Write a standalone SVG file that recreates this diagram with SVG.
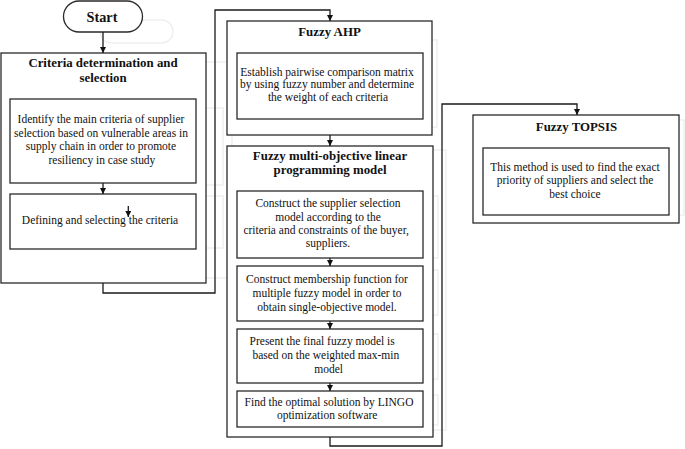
<svg xmlns="http://www.w3.org/2000/svg" width="685" height="449" viewBox="0 0 685 449" font-family="Liberation Serif, DejaVu Serif, serif">
<style>
.box{fill:#fff;stroke:#2a2a2a;stroke-width:1.3}
.ghost{fill:none;stroke:#efefef;stroke-width:1.5}
.con{fill:none;stroke:#1a1a1a;stroke-width:1.3}
text{fill:#111;text-anchor:middle}
.t{font-size:13px;font-weight:bold}
.b{font-size:12.5px}
.b2{font-size:12px}
.s{font-size:15.5px;font-weight:bold}
</style>
<defs>
<marker id="ah" viewBox="0 0 10 10" refX="10" refY="5" markerWidth="6" markerHeight="6" markerUnits="userSpaceOnUse" orient="auto">
<path d="M0,0 L10,5 L0,10 Z" fill="#111"/>
</marker>
</defs>
<rect width="685" height="449" fill="#fff"/>
<g id="ghosts">
<rect class="ghost" x="100" y="20" width="73" height="23" rx="11.5"/>
<rect class="ghost" x="40" y="62" width="192" height="216"/>
<rect class="ghost" x="49" y="108" width="174" height="77"/>
<rect class="ghost" x="49" y="196" width="174" height="52"/>
<rect class="ghost" x="263" y="40" width="174" height="87"/>
<rect class="ghost" x="266" y="150" width="180" height="280"/>
<rect class="ghost" x="263" y="196" width="175" height="62"/>
<rect class="ghost" x="263" y="270" width="175" height="45"/>
<rect class="ghost" x="263" y="334" width="175" height="45"/>
<rect class="ghost" x="263" y="395" width="175" height="30"/>
<rect class="ghost" x="500" y="120" width="184" height="95"/>
</g>
<g id="start">
<rect class="box" x="63.5" y="1" width="79" height="31" rx="15.5"/>
<g transform="translate(102,0) scale(0.92,1)"><text class="s" x="0" y="22">Start</text></g>
</g>
<g id="criteria">
<rect class="box" x="1" y="53" width="205" height="230"/>
<g transform="translate(103,0) scale(0.99,1)">
<text class="t" x="0" y="67">Criteria determination and</text>
<text class="t" x="0" y="82">selection</text>
</g>
</g>
<g id="identify">
<rect class="box" x="10" y="99" width="186" height="84"/>
<g transform="translate(101,0) scale(0.92,1)">
<text class="b" x="0" y="123">Identify the main criteria of supplier</text>
<text class="b" x="0" y="137">selection based on vulnerable areas in</text>
<text class="b" x="0" y="150.5">supply chain in order to promote</text>
<text class="b" x="1" y="164">resiliency  in case study</text>
</g>
</g>
<g id="defining">
<rect class="box" x="10" y="194" width="186" height="55"/>
<g transform="translate(100,0) scale(0.92,1)"><text class="b" x="0" y="224">Defining and selecting the criteria</text></g>
</g>
<g id="ahp">
<rect class="box" x="227" y="21" width="205" height="114"/>
<g transform="translate(329.5,0) scale(0.99,1)"><text class="t" x="0" y="36">Fuzzy AHP</text></g>
</g>
<g id="pairwise">
<rect class="box" x="237" y="53" width="186" height="66"/>
<g transform="translate(327,0) scale(0.96,1)">
<text class="b2" x="0" y="76">Establish pairwise comparison matrix</text>
<text class="b2" x="0" y="88.5">by using fuzzy number and determine</text>
<text class="b2" x="1" y="101">the weight of each criteria</text>
</g>
</g>
<g id="fmolp">
<rect class="box" x="227" y="146" width="206" height="291"/>
<g transform="translate(330,0) scale(0.99,1)">
<text class="t" x="0" y="160">Fuzzy multi-objective linear</text>
<text class="t" x="0" y="174">programming model</text>
</g>
</g>
<g id="construct-model">
<rect class="box" x="237" y="191" width="186" height="67"/>
<g transform="translate(328,0) scale(0.92,1)">
<text class="b" x="0" y="207">Construct the supplier selection</text>
<text class="b" x="0" y="221">model according to the</text>
<text class="b" x="-2" y="234">criteria and constraints of the buyer,</text>
<text class="b" x="0" y="247">suppliers.</text>
</g>
</g>
<g id="membership">
<rect class="box" x="237" y="266" width="186" height="55"/>
<g transform="translate(327,0) scale(0.92,1)">
<text class="b" x="0" y="283">Construct membership function for</text>
<text class="b" x="0" y="297">multiple fuzzy model in order to</text>
<text class="b" x="0" y="311">obtain single-objective model.</text>
</g>
</g>
<g id="final-model">
<rect class="box" x="237" y="329" width="186" height="54"/>
<g transform="translate(324,0) scale(0.92,1)">
<text class="b" x="-2" y="345">Present the final fuzzy model is</text>
<text class="b" x="2" y="359">based on the weighted max-min</text>
<text class="b" x="5" y="373">model</text>
</g>
</g>
<g id="lingo">
<rect class="box" x="237" y="391" width="186" height="36"/>
<g transform="translate(329,0) scale(0.92,1)">
<text class="b" x="0" y="406">Find the optimal solution by LINGO</text>
<text class="b" x="-2" y="419.5">optimization software</text>
</g>
</g>
<g id="topsis">
<rect class="box" x="473" y="115" width="206" height="108"/>
<g transform="translate(576.5,0) scale(0.99,1)"><text class="t" x="0" y="131">Fuzzy TOPSIS</text></g>
</g>
<g id="topsis-method">
<rect class="box" x="483" y="148" width="186" height="67"/>
<g transform="translate(575,0) scale(0.92,1)">
<text class="b" x="0" y="171">This method is used to find the exact</text>
<text class="b" x="0" y="184.5">priority of suppliers and select the</text>
<text class="b" x="0" y="198">best choice</text>
</g>
</g>
<g id="connectors">
<path class="con" d="M103,32 V53" marker-end="url(#ah)"/>
<path class="con" d="M103,183 V194" marker-end="url(#ah)"/>
<path class="con" d="M128.3,206 V217" marker-end="url(#ah)"/>
<path class="con" d="M103,283 V293 H215 V10 H330 V21" marker-end="url(#ah)"/>
<path class="con" d="M330,135 V146" marker-end="url(#ah)"/>
<path class="con" d="M330,258 V266" marker-end="url(#ah)"/>
<path class="con" d="M330,321 V329" marker-end="url(#ah)"/>
<path class="con" d="M330,383 V391" marker-end="url(#ah)"/>
<path class="con" d="M330,437 V446 H442 V104 H577 V115" marker-end="url(#ah)"/>
</g>
</svg>
